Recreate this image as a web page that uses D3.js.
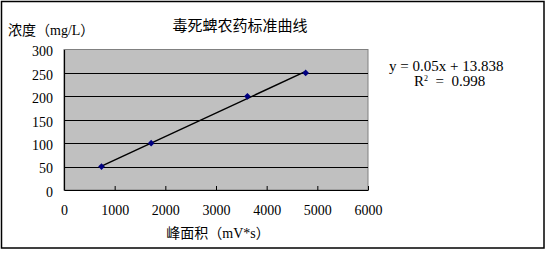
<!DOCTYPE html>
<html>
<head>
  <meta charset="utf-8">
  <title>毒死蜱农药标准曲线</title>
  <script src="https://d3js.org/d3.v7.min.js"></script>
  <style>
    body { margin: 0; background: #fff; }
    text { font-family: "Liberation Serif", "Noto Sans CJK SC", serif; fill: #000; }
    .cjk { font-family: "Liberation Serif", "Noto Sans CJK SC", serif; }
  </style>
</head>
<body>
<script>
// peak area (mV*s) vs concentration (mg/L)
var peakArea = [740, 1720, 3620, 4770];
var conc = [50, 100, 200, 250];
var xTicks = [0, 1000, 2000, 3000, 4000, 5000, 6000];
var yTicks = [0, 50, 100, 150, 200, 250, 300];
var titleText = "毒死蜱农药标准曲线";
var xLabel = "峰面积（mV*s）";
var yLabel = "浓度（mg/L）";
var eqText = "y = 0.05x + 13.838";
var r2Value = "0.998";

var W = 550, H = 253;
var plot = { left: 64, top: 49.5, right: 368, bottom: 190 };

var svg = d3.select("body").append("svg")
  .attr("width", W).attr("height", H);

// outer frame
svg.append("rect")
  .attr("x", 1.5).attr("y", 1.5)
  .attr("width", 542.5).attr("height", 246.5)
  .attr("fill", "#fff").attr("stroke", "#000").attr("stroke-width", 1.5);

var x = d3.scaleLinear().domain([0, 6000]).range([plot.left, plot.right]);
var y = d3.scaleLinear().domain([0, 300]).range([plot.bottom, plot.top]);

// plot area
svg.append("rect")
  .attr("x", plot.left).attr("y", plot.top)
  .attr("width", plot.right - plot.left).attr("height", plot.bottom - plot.top)
  .attr("fill", "#c0c0c0").attr("stroke", "#808080").attr("stroke-width", 1);

// gridlines
svg.append("g").selectAll("line")
  .data(yTicks.filter(function (d) { return d > 0 && d < 300; }))
  .enter().append("line")
  .attr("x1", plot.left).attr("x2", plot.right)
  .attr("y1", function (d) { return Math.round(y(d)) + 0.5; })
  .attr("y2", function (d) { return Math.round(y(d)) + 0.5; })
  .attr("stroke", "#000").attr("stroke-width", 1);

// axes
var xAxis = svg.append("g")
  .attr("transform", "translate(0," + plot.bottom + ")")
  .call(d3.axisBottom(x).tickValues(xTicks).tickFormat(d3.format("d"))
    .tickSizeInner(-4).tickSizeOuter(0).tickPadding(15));
var yAxis = svg.append("g")
  .attr("transform", "translate(" + plot.left + ",0)")
  .call(d3.axisLeft(y).tickValues(yTicks).tickFormat(d3.format("d"))
    .tickSizeInner(0).tickSizeOuter(0).tickPadding(11));
[xAxis, yAxis].forEach(function (a) {
  a.select(".domain").attr("stroke", "#000").attr("stroke-width", 1.2);
  a.selectAll(".tick line").attr("stroke", "#000");
  a.selectAll("text").attr("font-family", "Liberation Serif").attr("font-size", 14).attr("fill", "#000");
});
yAxis.selectAll("text").attr("dy", "0.45em");

// least squares trendline through the data
var n = peakArea.length;
var mx = d3.mean(peakArea), my = d3.mean(conc);
var sxy = 0, sxx = 0;
for (var i = 0; i < n; i++) {
  sxy += (peakArea[i] - mx) * (conc[i] - my);
  sxx += (peakArea[i] - mx) * (peakArea[i] - mx);
}
var slope = sxy / sxx, icpt = my - slope * mx;
var x0 = d3.min(peakArea), x1 = d3.max(peakArea);
svg.append("line")
  .attr("x1", x(x0)).attr("y1", y(slope * x0 + icpt))
  .attr("x2", x(x1)).attr("y2", y(slope * x1 + icpt))
  .attr("stroke", "#000").attr("stroke-width", 1.5);

// markers
svg.append("g").selectAll("path")
  .data(peakArea.map(function (d, i) { return [d, conc[i]]; }))
  .enter().append("path")
  .attr("d", d3.symbol().type(d3.symbolDiamond2).size(28))
  .attr("transform", function (d) { return "translate(" + x(d[0]) + "," + y(d[1]) + ")"; })
  .attr("fill", "#000080");

// titles
svg.append("text").attr("class", "cjk")
  .attr("x", 240).attr("y", 31).attr("text-anchor", "middle")
  .attr("font-size", 15).text(titleText);
svg.append("text").attr("class", "cjk")
  .attr("x", 8).attr("y", 35).attr("font-size", 14).text(yLabel);
svg.append("text").attr("class", "cjk")
  .attr("x", 218).attr("y", 238).attr("text-anchor", "middle")
  .attr("font-size", 14).text(xLabel);

// equation
svg.append("text")
  .attr("x", 389).attr("y", 71)
  .attr("font-size", 15).text(eqText);
var r2 = svg.append("text")
  .attr("x", 414).attr("y", 86)
  .attr("font-size", 15);
r2.append("tspan").text("R");
r2.append("tspan").attr("font-size", 8).attr("dy", -5).text("2");
r2.append("tspan").attr("dy", 5).attr("xml:space", "preserve").text("  =  " + r2Value);
</script>
</body>
</html>
